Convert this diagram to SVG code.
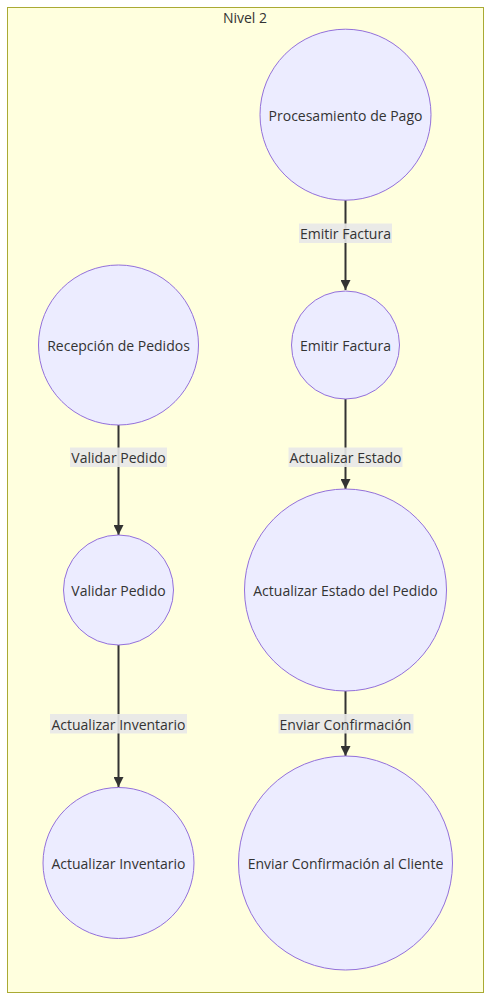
<svg xmlns="http://www.w3.org/2000/svg" width="502" height="1000" viewBox="0 0 502 1000">
<style>
.cluster{fill:#ffffde;stroke:#aaaa33;stroke-width:1}
.node circle{fill:#ececff;stroke:#9370db;stroke-width:1}
text{font-family:"Open Sans","Liberation Sans",sans-serif;font-size:14px;fill:#333333;text-anchor:middle;dominant-baseline:central}
.edge{stroke:#333333;stroke-width:2;fill:none}
.lbl rect{fill:#e8e8e8;opacity:0.9}
</style>
<defs>
<marker id="arrow" viewBox="0 0 10 10" refX="10" refY="5" markerWidth="10" markerHeight="10" markerUnits="userSpaceOnUse" orient="auto">
<path d="M0,0 L10,5 L0,10 z" fill="#333333"/>
</marker>
</defs>
<g id="cluster-nivel2">
<rect class="cluster" x="7.5" y="7.5" width="476" height="985"/>
<text x="245" y="17">Nivel 2</text>
</g>
<g id="edges">
<path class="edge" d="M345.5,200 L345.5,290" marker-end="url(#arrow)"/>
<path class="edge" d="M345.5,399 L345.5,489" marker-end="url(#arrow)"/>
<path class="edge" d="M345.5,691 L345.5,756" marker-end="url(#arrow)"/>
<path class="edge" d="M118.5,425 L118.5,535" marker-end="url(#arrow)"/>
<path class="edge" d="M118.5,645 L118.5,787" marker-end="url(#arrow)"/>
<g class="lbl"><rect x="299" y="223.5" width="93" height="19.5"/><text x="345.5" y="233">Emitir Factura</text></g>
<g class="lbl"><rect x="288.5" y="447.5" width="114" height="19.5"/><text x="345.5" y="457">Actualizar Estado</text></g>
<g class="lbl"><rect x="278.5" y="714" width="135" height="19.5"/><text x="345.5" y="724">Enviar Confirmación</text></g>
<g class="lbl"><rect x="70" y="447.5" width="97" height="19.5"/><text x="118.5" y="457">Validar Pedido</text></g>
<g class="lbl"><rect x="50" y="714" width="137" height="19.5"/><text x="118.5" y="724">Actualizar Inventario</text></g>
</g>
<g id="node-procesamiento" class="node"><circle cx="345.5" cy="114.7" r="85.5"/><text x="345.5" y="115">Procesamiento de Pago</text></g>
<g id="node-emitir" class="node"><circle cx="345.5" cy="345" r="54"/><text x="345.5" y="345">Emitir Factura</text></g>
<g id="node-estado" class="node"><circle cx="345.5" cy="590" r="101"/><text x="345.5" y="590">Actualizar Estado del Pedido</text></g>
<g id="node-confirmacion" class="node"><circle cx="345.5" cy="863" r="107"/><text x="345.5" y="863">Enviar Confirmación al Cliente</text></g>
<g id="node-recepcion" class="node"><circle cx="118.5" cy="345" r="80"/><text x="118.5" y="345">Recepción de Pedidos</text></g>
<g id="node-validar" class="node"><circle cx="118.5" cy="590" r="55"/><text x="118.5" y="590">Validar Pedido</text></g>
<g id="node-inventario" class="node"><circle cx="118.5" cy="863" r="75.5"/><text x="118.5" y="863">Actualizar Inventario</text></g>
</svg>
